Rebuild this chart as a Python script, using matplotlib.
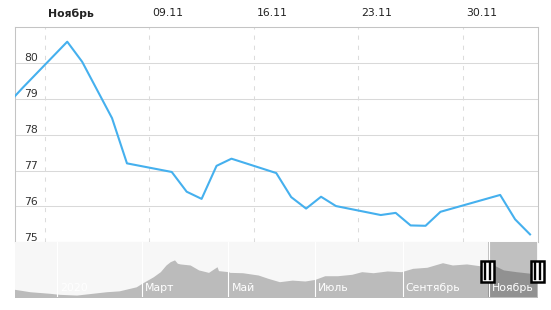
import pandas as pd
import matplotlib
matplotlib.use("Agg")
import matplotlib.pyplot as plt
import matplotlib.dates as mdates
from matplotlib.patches import Rectangle
from matplotlib.lines import Line2D

plt.rcParams['lines.scale_dashes'] = False

# main series, Oct 30 - Dec 4 2020
dates = ["2020-10-30", "2020-10-31", "2020-11-03", "2020-11-04", "2020-11-06",
         "2020-11-07", "2020-11-10", "2020-11-11", "2020-11-12", "2020-11-13",
         "2020-11-14", "2020-11-17", "2020-11-18", "2020-11-19", "2020-11-20",
         "2020-11-21", "2020-11-24", "2020-11-25", "2020-11-26", "2020-11-27",
         "2020-11-28", "2020-12-02", "2020-12-03", "2020-12-04"]
values = [78.85, 79.30, 80.59, 80.03, 78.46,
          77.20, 76.96, 76.41, 76.21, 77.13,
          77.33, 76.93, 76.26, 75.94, 76.27,
          76.01, 75.76, 75.82, 75.47, 75.46,
          75.85, 76.32, 75.64, 75.22]

# navigator series (whole year)
nav_dates = ["2019-12-02", "2019-12-13", "2019-12-27", "2020-01-03", "2020-01-15",
             "2020-01-26", "2020-02-05", "2020-02-14", "2020-02-26", "2020-03-01",
             "2020-03-09", "2020-03-14", "2020-03-18", "2020-03-21", "2020-03-24",
             "2020-03-26", "2020-03-28", "2020-04-04", "2020-04-10", "2020-04-17",
             "2020-04-23", "2020-04-24", "2020-05-01", "2020-05-02", "2020-05-11",
             "2020-05-22", "2020-05-29", "2020-06-06", "2020-06-15", "2020-06-24",
             "2020-07-01", "2020-07-08", "2020-07-17", "2020-07-27", "2020-08-03",
             "2020-08-11", "2020-08-21", "2020-08-31", "2020-09-08", "2020-09-18",
             "2020-09-29", "2020-10-06", "2020-10-16", "2020-10-25", "2020-11-04",
             "2020-11-11", "2020-11-20", "2020-11-30", "2020-12-05"]
nav_values = [64.3, 62.9, 62.0, 61.4, 61.0,
              62.0, 62.9, 63.4, 65.7, 67.7,
              71.4, 74.3, 78.1, 80.0, 81.0,
              79.1, 78.7, 78.1, 75.3, 73.9,
              77.1, 74.9, 74.3, 73.9, 73.7,
              72.4, 70.5, 68.6, 69.5, 69.0,
              69.9, 72.0, 72.0, 72.8, 74.3,
              73.7, 74.7, 74.3, 76.2, 76.8,
              79.4, 78.1, 78.7, 77.7, 78.1,
              75.3, 74.3, 73.4, 73.6]

week_ticks = ["2020-11-02", "2020-11-09", "2020-11-16", "2020-11-23", "2020-11-30"]
week_labels = ["Ноябрь", "09.11", "16.11", "23.11", "30.11"]
month_ticks = ["2020-01-01", "2020-03-01", "2020-05-01", "2020-07-01", "2020-09-01", "2020-11-01"]
month_labels = ["2020", "Март", "Май", "Июль", "Сентябрь", "Ноябрь"]
y_ticks = [75, 76, 77, 78, 79, 80]

x0, x1 = pd.Timestamp("2020-10-31"), pd.Timestamp("2020-12-05")
nx0, nx1 = pd.Timestamp("2019-12-02 12:00"), pd.Timestamp("2020-12-05")

W, H = 551, 310
L, R = 15, 537.5
fig = plt.figure(figsize=(W / 100, H / 100), dpi=100)

# main chart
ax = fig.add_axes([L / W, 1 - 242.3 / H, (R - L) / W, 215.3 / H])
for t in y_ticks[1:]:
    ax.axhline(t, color='#d9d9d9', lw=0.75, zorder=1)
for d in week_ticks:
    ax.axvline(pd.Timestamp(d), color='#dcdcdc', lw=0.75, ls=(0, (3, 4.3)), zorder=1)
x = pd.to_datetime(dates) + pd.Timedelta(hours=12)
ax.plot(x, values, color='#45b0ee', lw=1.5, zorder=3)
ax.set_xlim(x0, x1)
ax.set_ylim(75, 81)
ax.set_xticks([])
ax.set_yticks([])
for s in ax.spines.values():
    s.set_color('#c4c4c4')
    s.set_linewidth(0.75)

for t in y_ticks:
    ax.annotate(str(t), xy=(0, t), xycoords=('axes fraction', 'data'),
                xytext=(9 * 0.72, 1.8 * 0.72), textcoords='offset points',
                ha='left', va='baseline', fontsize=7.8, color='#333333')
for d, lab in zip(week_ticks, week_labels):
    ax.annotate(lab, xy=(pd.Timestamp(d), 1), xycoords=('data', 'axes fraction'),
                xytext=(3 * 0.72, 13.5 * 0.72), textcoords='offset points',
                ha='left', va='center', fontsize=7.8, color='#222222',
                fontweight='bold' if lab == "Ноябрь" else 'normal',
                annotation_clip=False)

# navigator
nav = fig.add_axes([L / W, 13 / H, (R - L) / W, 54.7 / H])
nav.set_facecolor('#f7f7f7')
nav.fill_between(pd.to_datetime(nav_dates), nav_values, 50, color='#bbbbbb', lw=0)
nav.set_xlim(nx0, nx1)
nav.set_ylim(59.9, 91.0)
nav.set_xticks([])
nav.set_yticks([])
for s in nav.spines.values():
    s.set_visible(False)
for d, lab in zip(month_ticks, month_labels):
    nav.axvline(pd.Timestamp(d), color='white', lw=0.8)
    nav.annotate(lab, xy=(pd.Timestamp(d), 0), xycoords=('data', 'axes fraction'),
                 xytext=(3 * 0.72, 9 * 0.72), textcoords='offset points',
                 ha='left', va='center', fontsize=7.8, color='white')
nav.axvspan(x0, x1, color='black', alpha=0.22, lw=0)

# handles at selection edges
span = mdates.date2num(nx1) - mdates.date2num(nx0)
for d in (x0, x1):
    frac = (mdates.date2num(d) - mdates.date2num(nx0)) / span
    cx = L + frac * (R - L) - 0.5
    fig.add_artist(Rectangle(((cx - 6) / W, (H - 281.5) / H), 12.5 / W, 21 / H,
                             facecolor='white', edgecolor='black', lw=1.8,
                             transform=fig.transFigure, zorder=10))
    for off in (-2.3, 2.3):
        fig.add_artist(Line2D([(cx + off + 0.25) / W] * 2,
                              [(H - 279) / H, (H - 263) / H],
                              color='black', lw=1.7,
                              transform=fig.transFigure, zorder=11))

fig.savefig("out.png", dpi=100)
